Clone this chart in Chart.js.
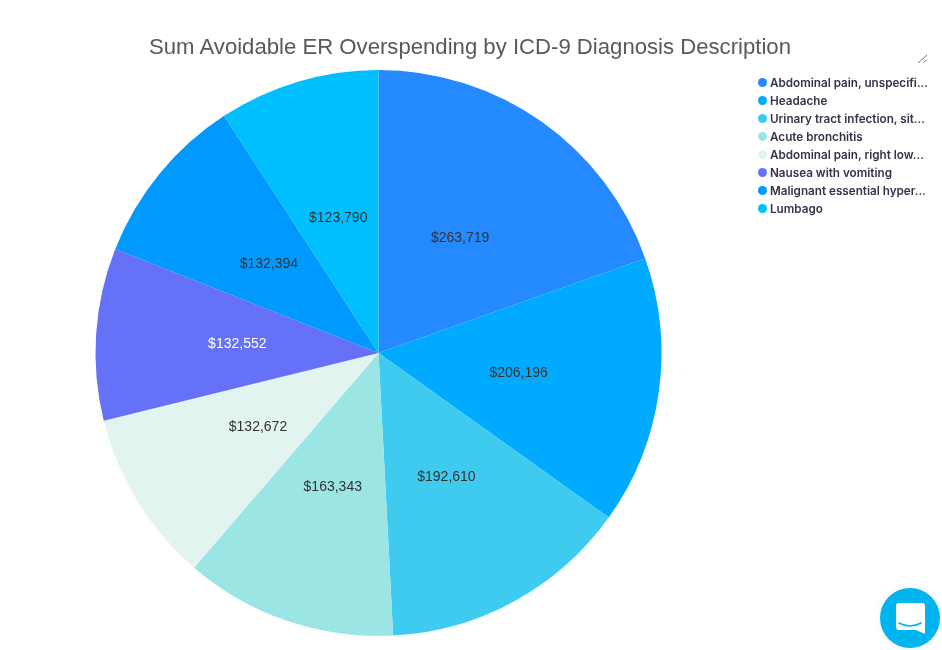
<!DOCTYPE html>
<html>
<head>
<meta charset="utf-8">
<title>Sum Avoidable ER Overspending</title>
<script src="https://cdn.jsdelivr.net/npm/chart.js@4/dist/chart.umd.min.js"></script>
<style>
    html, body { margin: 0; padding: 0; background: #fff; width: 942px; height: 650px; overflow: hidden; }
    #wrap { position: relative; width: 942px; height: 650px; }
    #chart { position: absolute; left: 0; top: 0; }
    #title {
        position: absolute; left: 0; top: 34px; width: 940px; text-align: center;
        font: 22.15px "Liberation Sans", sans-serif; color: #595959; white-space: nowrap;
    }
    #legend { position: absolute; left: 758px; top: 74px; margin: 0; padding: 0; list-style: none; }
    #legend li {
        height: 18px; line-height: 18px; white-space: nowrap;
        font: 600 11.7px/18px Inter, sans-serif; color: #33334a;
    }
    #legend i {
        display: inline-block; width: 9px; height: 9px; border-radius: 50%;
        margin-right: 3px; vertical-align: 0;
    }
    #grip { position: absolute; left: 917px; top: 54px; }
    #chat {
        position: absolute; left: 880px; top: 588px; width: 60px; height: 60px;
        border-radius: 50%; background: #00b4f0; box-shadow: 0 0 8px rgba(0, 0, 0, 0.06);
    }
</style>
</head>
<body>
<div id="wrap">
    <canvas id="chart" width="942" height="650"></canvas>
    <div id="title">Sum Avoidable ER Overspending by ICD-9 Diagnosis Description</div>
    <ul id="legend"></ul>
    <svg id="grip" width="11" height="10"><path d="M1 9 L10 1 M6 9 L10 5.5" stroke="#777" stroke-width="1" fill="none"/></svg>
    <div id="chat">
        <svg width="60" height="60">
            <path d="M19 15 Q16 15 16 18 V39 Q16 42 19 42 H36 L45 46 V18 Q45 15 42 15 Z" fill="#fff"/>
            <path d="M19 35 Q30 41 41 35" stroke="#00b4f0" stroke-width="1.6" fill="none" stroke-linecap="round"/>
        </svg>
    </div>
</div>
<script>
const categories = [
    'Abdominal pain, unspecifi...',
    'Headache',
    'Urinary tract infection, sit...',
    'Acute bronchitis',
    'Abdominal pain, right low...',
    'Nausea with vomiting',
    'Malignant essential hyper...',
    'Lumbago'
];
const overspending = [263719, 206196, 192610, 163343, 132672, 132552, 132394, 123790];
const sliceColors = ['#2589ff', '#00aaff', '#3fcbf0', '#9ce5e5', '#e2f4ef', '#6571f7', '#0099ff', '#00bfff'];
const labelColors = ['#333', '#333', '#333', '#333', '#333', '#fff', '#333', '#333'];

// dollar labels in the middle of each slice
const sliceLabels = {
    id: 'sliceLabels',
    afterDatasetsDraw(chart) {
        const ctx = chart.ctx;
        ctx.save();
        ctx.font = '14px "Liberation Sans", sans-serif';
        ctx.textAlign = 'center';
        ctx.textBaseline = 'middle';
        chart.getDatasetMeta(0).data.forEach(function (arc, i) {
            const p = arc.tooltipPosition();
            ctx.fillStyle = labelColors[i];
            ctx.fillText('$' + overspending[i].toLocaleString('en-US'), p.x, p.y + 0.5);
        });
        ctx.restore();
    }
};

new Chart(document.getElementById('chart'), {
    type: 'pie',
    data: {
        labels: categories,
        datasets: [{
            data: overspending,
            backgroundColor: sliceColors,
            borderWidth: 0
        }]
    },
    options: {
        responsive: false,
        animation: false,
        layout: { padding: { left: 95.5, right: 280.5, top: 70, bottom: 14 } },
        plugins: {
            legend: { display: false },
            tooltip: { enabled: false }
        }
    },
    plugins: [sliceLabels]
});

const legend = document.getElementById('legend');
categories.forEach(function (name, i) {
    const li = document.createElement('li');
    const dot = document.createElement('i');
    dot.style.background = sliceColors[i];
    li.appendChild(dot);
    li.appendChild(document.createTextNode(name));
    legend.appendChild(li);
});
</script>
</body>
</html>
